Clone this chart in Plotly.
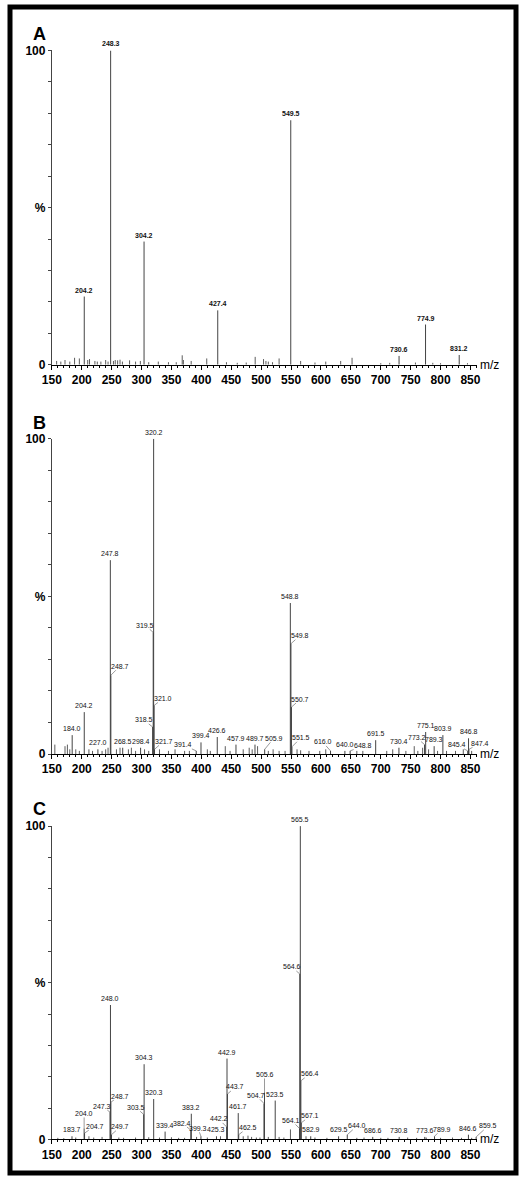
import plotly.graph_objects as go

# ---- panel A: labelled peaks (m/z, relative intensity %) ----
A_MZ = [204.2, 248.3, 304.2, 427.4, 549.5, 730.6, 774.9, 831.2]
A_INT = [21.7, 100.0, 39.2, 17.3, 77.8, 2.8, 12.8, 3.1]
# small unlabelled peaks
A_NOISE_MZ = [158, 165, 172, 180, 188, 196, 210, 213, 222, 226, 232, 240, 244,
              253, 256, 260, 264, 268, 280, 290, 298, 312, 328, 345, 358, 368,
              370, 383, 409, 442, 460, 475, 490, 504, 508, 512, 519, 530, 566,
              590, 608, 633, 652, 700, 715, 758, 787, 800, 845]
A_NOISE_INT = [1.2, 1.0, 1.5, 1.0, 2.2, 2.0, 1.5, 1.8, 1.2, 1.0, 1.0, 1.5, 1.0,
               1.2, 1.5, 1.4, 1.6, 1.0, 1.4, 1.0, 1.2, 0.8, 1.0, 0.8, 0.8, 3.0,
               1.5, 1.2, 2.0, 0.8, 0.6, 0.7, 2.5, 1.8, 1.2, 1.0, 0.8, 2.0, 1.2,
               0.7, 1.0, 1.2, 2.2, 0.5, 0.6, 0.7, 0.6, 0.5, 0.5]

# ---- panel B ----
B_MZ = [184.0, 204.2, 227.0, 247.8, 248.7, 268.5, 298.4, 318.5, 319.5, 320.2,
        321.0, 321.7, 391.4, 399.4, 426.6, 457.9, 489.7, 505.9, 548.8, 549.8,
        550.7, 551.5, 616.0, 640.0, 648.8, 691.5, 730.4, 773.2, 775.1, 789.3,
        803.9, 845.4, 846.8, 847.4]
B_INT = [6.0, 13.3, 1.5, 61.5, 25.0, 2.0, 2.0, 8.6, 38.6, 100.0,
         15.4, 1.5, 1.0, 3.7, 5.4, 3.0, 3.0, 1.5, 47.9, 35.0,
         14.9, 2.3, 1.0, 1.0, 1.0, 4.4, 2.0, 3.0, 7.0, 2.5,
         6.0, 1.0, 5.0, 1.5]
B_NOISE_MZ = [155, 172, 176, 180, 190, 196, 212, 218, 234, 240, 244, 258, 264,
              278, 283, 290, 305, 312, 330, 345, 356, 372, 380, 410, 415, 440,
              448, 470, 480, 485, 494, 512, 520, 530, 540, 560, 566, 580, 598,
              608, 660, 670, 710, 720, 742, 756, 762, 770, 780, 795, 810, 825,
              838, 852]
B_NOISE_INT = [3.0, 2.5, 3.0, 1.5, 1.5, 1.0, 1.5, 1.0, 1.0, 1.5, 2.0, 1.5, 2.0,
               1.5, 2.0, 1.0, 1.5, 1.0, 1.5, 1.0, 1.5, 1.0, 1.0, 1.5, 1.0, 2.5,
               1.0, 1.5, 2.0, 1.5, 2.5, 1.0, 1.5, 1.0, 1.0, 1.5, 1.2, 1.0, 1.0,
               1.5, 1.0, 1.0, 1.0, 1.5, 1.0, 2.5, 1.0, 2.0, 1.5, 1.0, 1.0, 1.0,
               1.5, 1.0]

# ---- panel C ----
C_MZ = [183.7, 204.0, 204.7, 247.3, 248.0, 248.7, 249.7, 303.5, 304.3, 320.3,
        339.4, 382.4, 383.2, 399.3, 425.3, 442.2, 442.9, 443.7, 461.7, 462.5,
        504.7, 505.6, 523.5, 564.1, 564.6, 565.5, 566.4, 567.1, 582.9, 629.5,
        644.0, 686.6, 730.8, 773.6, 789.9, 846.6, 859.5]
C_INT = [1.0, 3.5, 2.0, 8.7, 42.9, 11.9, 1.5, 8.0, 24.0, 12.9,
         2.5, 3.0, 8.2, 1.0, 1.0, 4.0, 25.8, 14.5, 8.4, 1.5,
         11.5, 15.0, 12.4, 3.5, 52.8, 100.0, 18.7, 5.3, 1.0, 1.0,
         1.5, 0.8, 0.8, 0.8, 1.0, 1.5, 0.8]
C_NOISE_MZ = [160, 170, 190, 212, 220, 234, 262, 270, 290, 312, 330, 350, 362,
              372, 392, 410, 432, 470, 478, 484, 492, 498, 512, 530, 538, 549,
              575, 590, 610, 660, 672, 700, 712, 745, 760, 776, 800, 820, 835,
              852]
C_NOISE_INT = [0.5, 0.4, 0.6, 1.0, 0.6, 0.8, 0.6, 0.5, 0.6, 0.7, 0.6, 0.7, 0.5,
               0.5, 0.8, 0.6, 1.0, 1.0, 1.2, 0.8, 0.6, 0.6, 0.8, 0.8, 0.6, 3.2,
               1.0, 0.6, 0.5, 0.5, 0.6, 0.5, 0.5, 0.6, 0.5, 0.6, 0.5, 0.6, 0.5,
               0.5]

# label offsets (px) for labels drawn with a leader line
LEADERS = {
    'B': {248.7: (9, -9), 319.5: (-8, -7), 321.0: (9, -7), 318.5: (-9, -7),
          321.7: (9, -8), 391.4: (-13, -6), 505.9: (9, -11), 549.8: (9, -8),
          550.7: (9, -8), 551.5: (9, -9), 616.0: (-8, -9), 648.8: (13, -5),
          773.2: (-8, -7), 845.4: (-11, -6), 847.4: (11, -6)},
    'C': {564.6: (-8, -7), 566.4: (9, -7), 567.1: (9, -7), 564.1: (-8, -8),
          248.7: (9, -6), 247.3: (-8, -6), 249.7: (9, -8), 204.0: (0, -15),
          204.7: (10, -7), 399.3: (-3, -8),
          303.5: (-8, -7), 382.4: (-9, -7), 443.7: (8, -7), 442.2: (-8, -8),
          462.5: (9, -7), 505.6: (0, -18), 504.7: (-8, -8), 644.0: (10, -9),
          789.9: (7, -7), 859.5: (12, -11)},
    'A': {},
}

PANELS = [
    ('A', A_MZ, A_INT, A_NOISE_MZ, A_NOISE_INT, (0.6932, 0.9627), 0.977),
    ('B', B_MZ, B_INT, B_NOISE_MZ, B_NOISE_INT, (0.3593, 0.6297), 0.6435),
    ('C', C_MZ, C_INT, C_NOISE_MZ, C_NOISE_INT, (0.0288, 0.2975), 0.3125),
]

FONT = 'Liberation Sans, Arial, sans-serif'
X_DOMAIN = [0.0827, 0.923]


def sticks(mz, inten):
    xs, ys = [], []
    for m, h in zip(mz, inten):
        xs += [m, m, None]
        ys += [0, h, None]
    return xs, ys


fig = go.Figure()
annotations = []
layout = {}

for i, (name, mz, inten, nmz, nint, ydom, letter_y) in enumerate(PANELS, start=1):
    xa = 'x' if i == 1 else f'x{i}'
    ya = 'y' if i == 1 else f'y{i}'

    nx, ny = sticks(nmz, nint)
    fig.add_trace(go.Scatter(x=nx, y=ny, mode='lines', xaxis=xa, yaxis=ya,
                             line=dict(color='#333', width=0.8),
                             hoverinfo='skip', showlegend=False))
    px, py = sticks(mz, inten)
    fig.add_trace(go.Scatter(x=px, y=py, mode='lines', xaxis=xa, yaxis=ya,
                             line=dict(color='#444', width=1),
                             hoverinfo='skip', showlegend=False))

    bold = name == 'A'
    for m, h in zip(mz, inten):
        txt = f'{m:.1f}'
        lab = dict(x=m, y=h, xref=xa, yref=ya, text=txt,
                   font=dict(family=FONT, size=7, color='#111',
                             weight='bold' if bold else 'normal'))
        off = LEADERS[name].get(m)
        if off:
            lab.update(showarrow=True, ax=off[0], ay=off[1], arrowhead=0,
                       arrowwidth=0.6, arrowcolor='#555', standoff=0,
                       borderpad=0)
        else:
            lab.update(showarrow=False, yanchor='bottom', yshift=1)
        annotations.append(lab)

    annotations.append(dict(x=0.041, y=letter_y, xref='paper', yref='paper',
                            text=name, showarrow=False, xanchor='left',
                            yanchor='middle',
                            font=dict(family=FONT, size=18, color='black',
                                      weight='bold')))
    annotations.append(dict(x=0.925, y=ydom[0], xref='paper', yref='paper',
                            text='m/z', showarrow=False, xanchor='left',
                            yanchor='middle',
                            font=dict(family=FONT, size=12, color='black')))

    key = 'axis' if i == 1 else f'axis{i}'
    layout['x' + key] = dict(
        domain=X_DOMAIN, range=[150, 861], anchor=ya,
        showline=True, linecolor='black', linewidth=1,
        ticks='outside', ticklen=4, tickcolor='black',
        tick0=150, dtick=50,
        minor=dict(dtick=10, ticks='outside', ticklen=2, tickcolor='black'),
        showgrid=False, zeroline=False,
        tickfont=dict(family=FONT, size=12, color='black', weight='bold'))
    layout['y' + key] = dict(
        domain=list(ydom), range=[0, 100], anchor=xa,
        showline=True, linecolor='#444', linewidth=1,
        ticks='outside', ticklen=3, tickcolor='#444',
        tickvals=list(range(0, 101, 10)),
        ticktext=['0', '', '', '', '', '%', '', '', '', '', '100'],
        showgrid=False, zeroline=False,
        tickfont=dict(family=FONT, size=12, color='black', weight='bold'))

fig.update_layout(
    width=520, height=1180, autosize=False,
    margin=dict(l=0, r=0, t=0, b=0),
    paper_bgcolor='white', plot_bgcolor='white',
    annotations=annotations,
    shapes=[dict(type='rect', xref='paper', yref='paper', x0=0, y0=0,
                 x1=1, y1=1, line=dict(color='black', width=5))],
    **layout)

fig.write_html('out.html', config={'displayModeBar': False},
               post_script="document.body.style.margin='0';"
                           "document.body.style.overflow='hidden';")
